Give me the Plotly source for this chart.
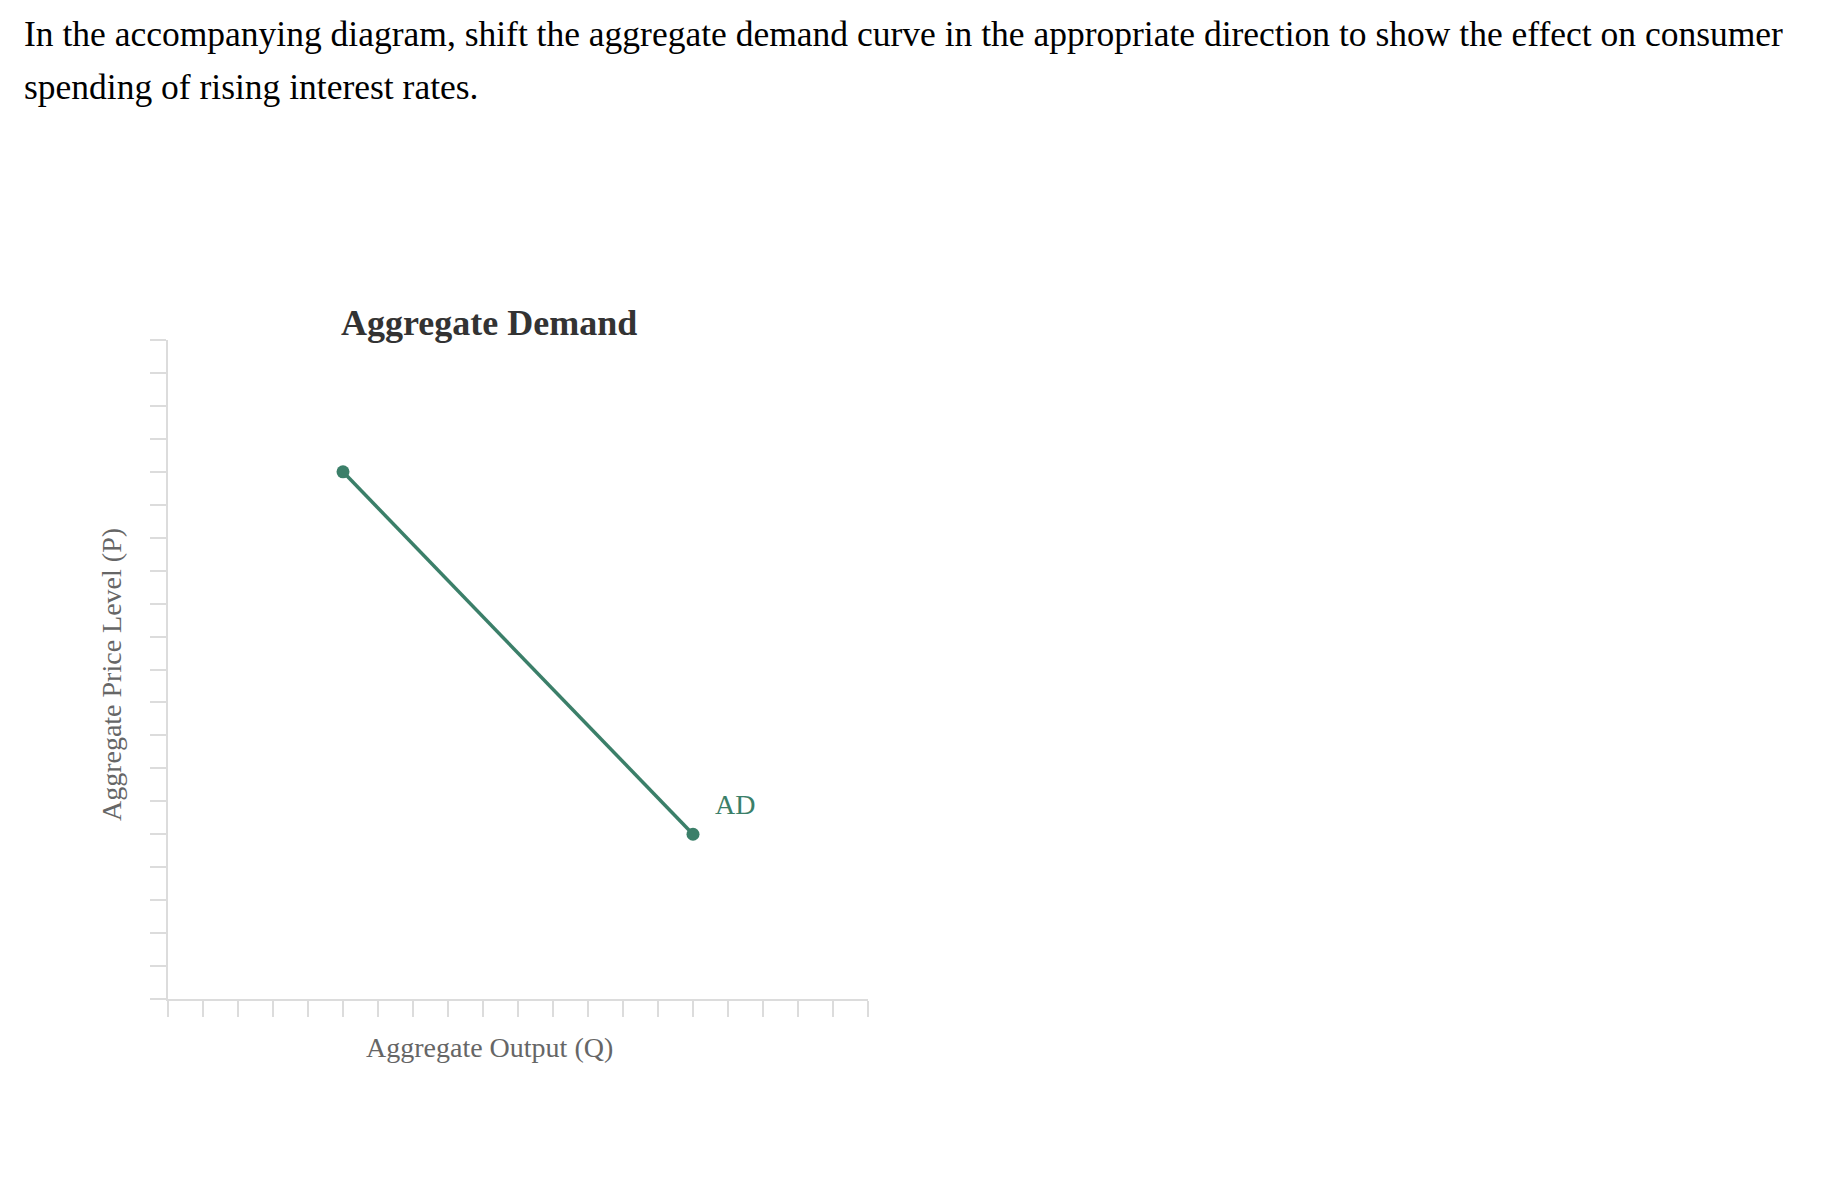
import plotly.graph_objects as go

# AD curve endpoints (output Q, price level P)
q_vals = [5, 15]
p_vals = [16, 5]
curve_label = "AD"
green = "#3b7f69"
grey_line = "#dcdcdc"
serif = "Liberation Serif, Times New Roman, serif"

fig = go.Figure()
fig.add_trace(go.Scatter(x=q_vals, y=p_vals, mode="lines+markers",
                         line=dict(color=green, width=3.5),
                         marker=dict(color=green, size=13),
                         hoverinfo="skip", showlegend=False))

axis_common = dict(range=[0, 20], dtick=1, showline=True, linecolor=grey_line, linewidth=2,
                   ticks="outside", ticklen=16, tickcolor=grey_line, tickwidth=1.5,
                   showticklabels=False, showgrid=False, zeroline=False, fixedrange=True)
fig.update_xaxes(**axis_common)
fig.update_yaxes(**axis_common)

fig.update_layout(
    width=1840, height=1188, plot_bgcolor="white", paper_bgcolor="white",
    margin=dict(l=160, r=980, t=332, b=197),
    font=dict(family=serif),
)

ann = [
    dict(text="In the accompanying diagram, shift the aggregate demand curve in the appropriate direction to show the effect on consumer",
         x=-0.209, y=1.464, xanchor="left", yanchor="middle", align="left",
         font=dict(size=35.5, color="black")),
    dict(text="spending of rising interest rates.",
         x=-0.209, y=1.384, xanchor="left", yanchor="middle", align="left",
         font=dict(size=35.5, color="black")),
    dict(text="<b>Aggregate Demand</b>", x=0.459, y=1.059,
         font=dict(size=36, color="#333333")),
    dict(text="Aggregate Output (Q)", x=0.459, y=-0.100,
         font=dict(size=28, color="#666666")),
    dict(text="Aggregate Price Level (P)", x=-0.106, y=0.492, textangle=-90,
         font=dict(size=28, color="#666666")),
]
for a in ann:
    fig.add_annotation(xref="paper", yref="paper", showarrow=False, **a)

fig.add_annotation(x=16.2, y=5.9, text=curve_label, showarrow=False,
                   font=dict(size=28, color=green))

fig.write_html("out.html")
